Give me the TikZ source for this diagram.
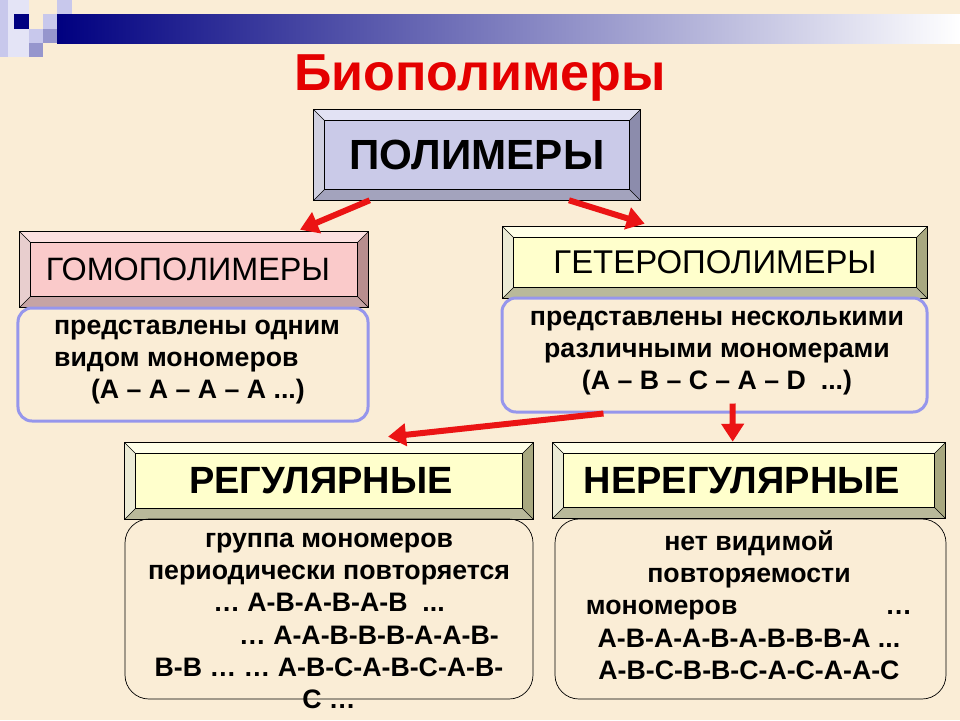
\documentclass[tikz,border=0pt]{standalone}
\usepackage{fontspec}
\setmainfont{Liberation Sans}
\usetikzlibrary{calc,arrows.meta,positioning}

\definecolor{bgbeige}{RGB}{250,237,214}
\definecolor{titlered}{RGB}{228,0,0}
\definecolor{arrowred}{RGB}{235,20,20}
\definecolor{navy}{RGB}{0,0,128}
\definecolor{sqpale}{RGB}{228,228,246}
\definecolor{sqlight}{RGB}{200,200,236}
\definecolor{sqmid}{RGB}{150,150,205}
\definecolor{lavface}{RGB}{202,202,232}
\definecolor{lavlight}{RGB}{226,226,244}
\definecolor{lavdark}{RGB}{140,140,172}
\definecolor{pinkface}{RGB}{250,202,202}
\definecolor{pinklight}{RGB}{252,224,224}
\definecolor{pinkdark}{RGB}{184,142,142}
\definecolor{yelface}{RGB}{255,255,204}
\definecolor{yellight}{RGB}{255,255,232}
\definecolor{yeldark}{RGB}{168,168,128}
\definecolor{descblue}{RGB}{150,150,236}

% bevel of a framed box: node, light colour, dark colour
\newcommand{\bevel}[3]{%
  \fill[#2] (#1.north west) -- (#1.north east) -- ($(#1.north east)+(-2.75mm,-2.75mm)$) -- ($(#1.north west)+(2.75mm,-2.75mm)$) -- cycle;
  \fill[#2!92!black] (#1.north west) -- ($(#1.north west)+(2.75mm,-2.75mm)$) -- ($(#1.south west)+(2.75mm,2.75mm)$) -- (#1.south west) -- cycle;
  \fill[#3] (#1.north east) -- (#1.south east) -- ($(#1.south east)+(-2.75mm,2.75mm)$) -- ($(#1.north east)+(-2.75mm,-2.75mm)$) -- cycle;
  \fill[#3!80!white] (#1.south west) -- (#1.south east) -- ($(#1.south east)+(-2.75mm,2.75mm)$) -- ($(#1.south west)+(2.75mm,2.75mm)$) -- cycle;
  \draw[line width=0.4pt] (#1.north west) rectangle (#1.south east);
  \draw[line width=0.4pt] ($(#1.north west)+(2.75mm,-2.75mm)$) rectangle ($(#1.south east)+(-2.75mm,2.75mm)$);
  \draw[line width=0.3pt] (#1.north west) -- ++(2.75mm,-2.75mm) (#1.north east) -- ++(-2.75mm,-2.75mm)
    (#1.south west) -- ++(2.75mm,2.75mm) (#1.south east) -- ++(-2.75mm,2.75mm);
}

\begin{document}
\begin{tikzpicture}[x=0.25mm, y=-0.25mm,
  headbox/.style={inner sep=0pt},
  descframe/.style={draw=descblue, line width=0.75mm, rounded corners=3.5mm, inner sep=0pt},
  typeframe/.style={draw=black, line width=0.5pt, rounded corners=6mm, inner sep=0pt},
  desctext/.style={font=\fontsize{19pt}{23pt}\selectfont\bfseries, inner sep=0pt},
  redarrow/.style={draw=arrowred, line width=1.5mm, -{Triangle[length=4.5mm, width=5.5mm]}}]

\fill[bgbeige] (0,0) rectangle (960,720);
\useasboundingbox (0,0) rectangle (960,720);

% title bar
\shade[left color=navy, right color=white] (57,14) rectangle (960,43);
\fill[sqpale] (0,0) rectangle (29,57);
\fill[sqlight] (0,0) rectangle (8,57);
\fill[navy] (14,14) rectangle (29,29);
\fill[sqlight] (29,29) rectangle (43,43);
\fill[sqmid] (29,43) rectangle (43,57);
\fill[sqlight] (43,14) rectangle (57,29);
\fill[sqmid] (43,29) rectangle (57,43);
\fill[sqlight] (57,0) rectangle (72,14);

\node[text=titlered, font=\fontsize{37pt}{40pt}\selectfont\bfseries] (title) at (480,78) {Биополимеры};

\node[headbox, fill=lavface, minimum width=81.5mm, minimum height=22.5mm,
  font=\fontsize{30pt}{34pt}\selectfont\bfseries] (poly) at (477,155) {ПОЛИМЕРЫ};
\node[headbox, fill=pinkface, minimum width=87mm, minimum height=18.75mm,
  font=\fontsize{23pt}{27pt}\selectfont] (homo) at (194,269.5) {ГОМОПОЛИМЕРЫ\hspace*{3mm}};
\node[headbox, fill=yelface, minimum width=106mm, minimum height=17.75mm,
  font=\fontsize{23.4pt}{27pt}\selectfont] (hetero) at (715,262.5) {ГЕТЕРОПОЛИМЕРЫ};
\node[headbox, fill=yelface, minimum width=102mm, minimum height=19mm,
  font=\fontsize{27pt}{31pt}\selectfont\bfseries] (reg) at (329,481) {РЕГУЛЯРНЫЕ\hspace*{4mm}};
\node[headbox, fill=yelface, minimum width=98mm, minimum height=18.75mm,
  font=\fontsize{27pt}{31pt}\selectfont\bfseries] (irreg) at (749,480.5) {НЕРЕГУЛЯРНЫЕ\hspace*{3.5mm}};

\bevel{poly}{lavlight}{lavdark}
\bevel{homo}{pinklight}{pinkdark}
\bevel{hetero}{yellight}{yeldark}
\bevel{reg}{yellight}{yeldark}
\bevel{irreg}{yellight}{yeldark}

\node[descframe, minimum width=87.5mm, minimum height=28.25mm] (homodesc) at (193,364.5) {};
\node[descframe, minimum width=106.25mm, minimum height=28.5mm] (heterodesc) at (714.5,355) {};
\node[typeframe, minimum width=102mm, minimum height=45mm] (regdesc) at (329,609) {};
\node[typeframe, minimum width=97.75mm, minimum height=45mm] (irregdesc) at (750.5,609) {};

\node[desctext, align=left] (homotext) at (197,362) {представлены одним\\ видом мономеров\\ \hspace*{9.25mm}(А – А – А – А ...)};
\node[desctext, align=center] (heterotext) at (717,353) {представлены несколькими\\ различными мономерами\\ (А – В – С – А – D~~...)};
\node[desctext, align=center] (regtext) at (329,621) {группа мономеров\\ периодически повторяется\\
  … А-В-А-В-А-В~~...\hspace*{9mm}\\ \hspace*{20mm}… А-А-В-В-В-А-А-В-\\ В-В … … А-В-С-А-В-С-А-В-\\ С …};
\node[desctext, align=center] (irregtext) at (749,605) {нет видимой\\ повторяемости\\
  мономеров\hspace*{37mm}…\\ А-В-А-А-В-А-В-В-В-А ...\\ А-В-С-В-В-С-А-С-А-А-С};

\draw[redarrow] ($(poly.south west)+(14mm,0)$) -- ($(homo.north)+(26.5mm,0.5mm)$);
\draw[redarrow] ($(poly.south)+(23mm,0)$) -- ($(hetero.north west)+(35.5mm,0.75mm)$);
\draw[redarrow] ($(heterodesc.south west)+(25.75mm,0)$) -- ($(reg.north)+(14.75mm,1.5mm)$);
\draw[redarrow] ($(heterodesc.south)+(4.5mm,2.5mm)$) -- ($(irreg.north west)+(45mm,0.25mm)$);

\end{tikzpicture}
\end{document}
